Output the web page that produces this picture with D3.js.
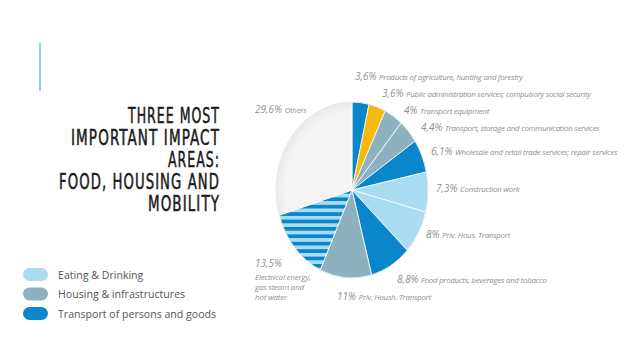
<!DOCTYPE html>
<html><head><meta charset="utf-8">
<script src="https://cdn.jsdelivr.net/npm/d3@7"></script>
<style>
html,body{margin:0;padding:0;background:#fff;}
svg{display:block;}
</style></head>
<body>
<svg id="c" width="638" height="359"></svg>
<script>
// ---- data ----
const titleLines = ["THREE MOST", "IMPORTANT IMPACT", "AREAS:", "FOOD, HOUSING AND", "MOBILITY"];
const legendLabels = ["Eating & Drinking", "Housing & infrastructures", "Transport of persons and goods"];
const legendGroups = ["eating", "housing", "transport"];
const sliceValues = [3.6, 3.6, 4, 4.4, 6.1, 7.3, 8, 8.8, 11, 13.5, 29.6];
const slicePct = ["3,6%", "3,6%", "4%", "4,4%", "6,1%", "7,3%", "8%", "8,8%", "11%", "13,5%", "29,6%"];
const sliceNames = [
  "Products of agriculture, hunting and forestry",
  "Public administration services; compulsory social security",
  "Transport equipment",
  "Transport, storage and communication services",
  "Wholesale and retail trade services; repair services",
  "Construction work",
  "Priv. Hous. Transport",
  "Food products, beverages and tobacco",
  "Priv. Housh. Transport",
  "Electrical energy,|gas steam and|hot water",
  "Others"
];
const sliceGroups = ["transport", "public", "housing", "housing", "transport", "eating", "eating", "transport", "housing", "electric", "others"];

// ---- layout / style ----
const colors = {eating: "#a9dbf2", housing: "#8eb1c0", transport: "#0a86cb", public: "#f6b90e", electric: "url(#stripes)", others: "url(#othG)"};
const labelPos = [
  [355, 80], [382, 97], [404, 114], [421, 131], [431, 155], [436, 192],
  [426, 238], [397, 283], [337, 300], [255, 267], [255, 113]
];
const svg = d3.select("#c");

const cx = 352, cy = 190, R = 88, sx = 76 / 88;

// stripes pattern
const defs = svg.append("defs");
const pat = defs.append("pattern").attr("id", "stripes").attr("patternUnits", "userSpaceOnUse")
  .attr("width", 10).attr("height", 7.4);
pat.append("rect").attr("width", 10).attr("height", 7.4).attr("fill", "#a9dbf2");
pat.append("rect").attr("width", 10).attr("height", 3.7).attr("fill", "#0a86cb");
const grad = defs.append("radialGradient").attr("id", "othG").attr("gradientUnits", "userSpaceOnUse")
  .attr("cx", 0).attr("cy", 0).attr("r", R);
grad.append("stop").attr("offset", "0.88").attr("stop-color", "#f4f4f4");
grad.append("stop").attr("offset", "1").attr("stop-color", "#e9e9e9");

// vertical accent line
svg.append("line").attr("x1", 40).attr("x2", 40).attr("y1", 43).attr("y2", 91)
  .attr("stroke", "#8fcbe3").attr("stroke-width", 2);

// title
const tx = 220, ty0 = 122.5, tdy = 22.2;
const titleWidths = [92, 149, 52, 161, 72];
svg.append("g").selectAll("text").data(titleLines).join("text")
  .attr("x", tx).attr("y", (d, i) => ty0 + i * tdy)
  .attr("text-anchor", "end")
  .attr("font-family", "'DejaVu Sans Condensed', 'DejaVu Sans', sans-serif")
  .attr("font-size", 20.5).attr("fill", "#1a1a1a")
  .attr("stroke", "#1a1a1a").attr("stroke-width", 0.5)
  .attr("letter-spacing", 1.5)
  .attr("textLength", (d, i) => titleWidths[i]).attr("lengthAdjust", "spacingAndGlyphs")
  .text(d => d);

// legend
const lg = svg.append("g");
const ly = d3.scalePoint().domain(legendLabels).range([274.5, 313.5]);
legendLabels.forEach((l, i) => {
  lg.append("rect").attr("x", 23).attr("y", ly(l) - 6.5).attr("width", 25).attr("height", 13)
    .attr("rx", 6.5).attr("fill", colors[legendGroups[i]]);
  lg.append("text").attr("x", 58).attr("y", ly(l) + 4).attr("font-family", "'Open Sans', sans-serif")
    .attr("font-size", 10.6).attr("fill", "#555").text(l);
});

// pie
const pie = d3.pie().sort(null).value(d => d);
const arcs = pie(sliceValues);
const arc = d3.arc().innerRadius(0).outerRadius(R);
const pg = svg.append("g").attr("transform", `translate(${cx},${cy}) scale(${sx},1)`);
pg.selectAll("path").data(arcs).join("path")
  .attr("d", arc)
  .attr("fill", (d, i) => colors[sliceGroups[i]])
  .attr("stroke", "#fff").attr("stroke-width", 0.8)
  .attr("vector-effect", "non-scaling-stroke");
pg.append("circle").attr("r", R).attr("fill", "none").attr("stroke", "#dedede").attr("stroke-width", 0.7)
  .attr("vector-effect", "non-scaling-stroke");

// labels
const lab = svg.append("g").attr("font-family", "'Open Sans', sans-serif").attr("font-style", "italic").attr("fill", "#8f8f8f");
sliceNames.forEach((n, i) => {
  const [x, y] = labelPos[i];
  const parts = n.split("|");
  if (parts.length > 1) {
    lab.append("text").attr("x", x).attr("y", y).attr("font-size", 10).text(slicePct[i]);
    parts.forEach((p, j) => lab.append("text").attr("x", x).attr("y", y + 13 + j * 10)
      .attr("font-size", 8).attr("letter-spacing", -0.2).text(p));
  } else {
    const t = lab.append("text").attr("x", x).attr("y", y);
    t.append("tspan").attr("font-size", 10).text(slicePct[i] + " ");
    t.append("tspan").attr("font-size", 7.9).attr("letter-spacing", -0.25).text(n);
  }
});
</script>
</body></html>
